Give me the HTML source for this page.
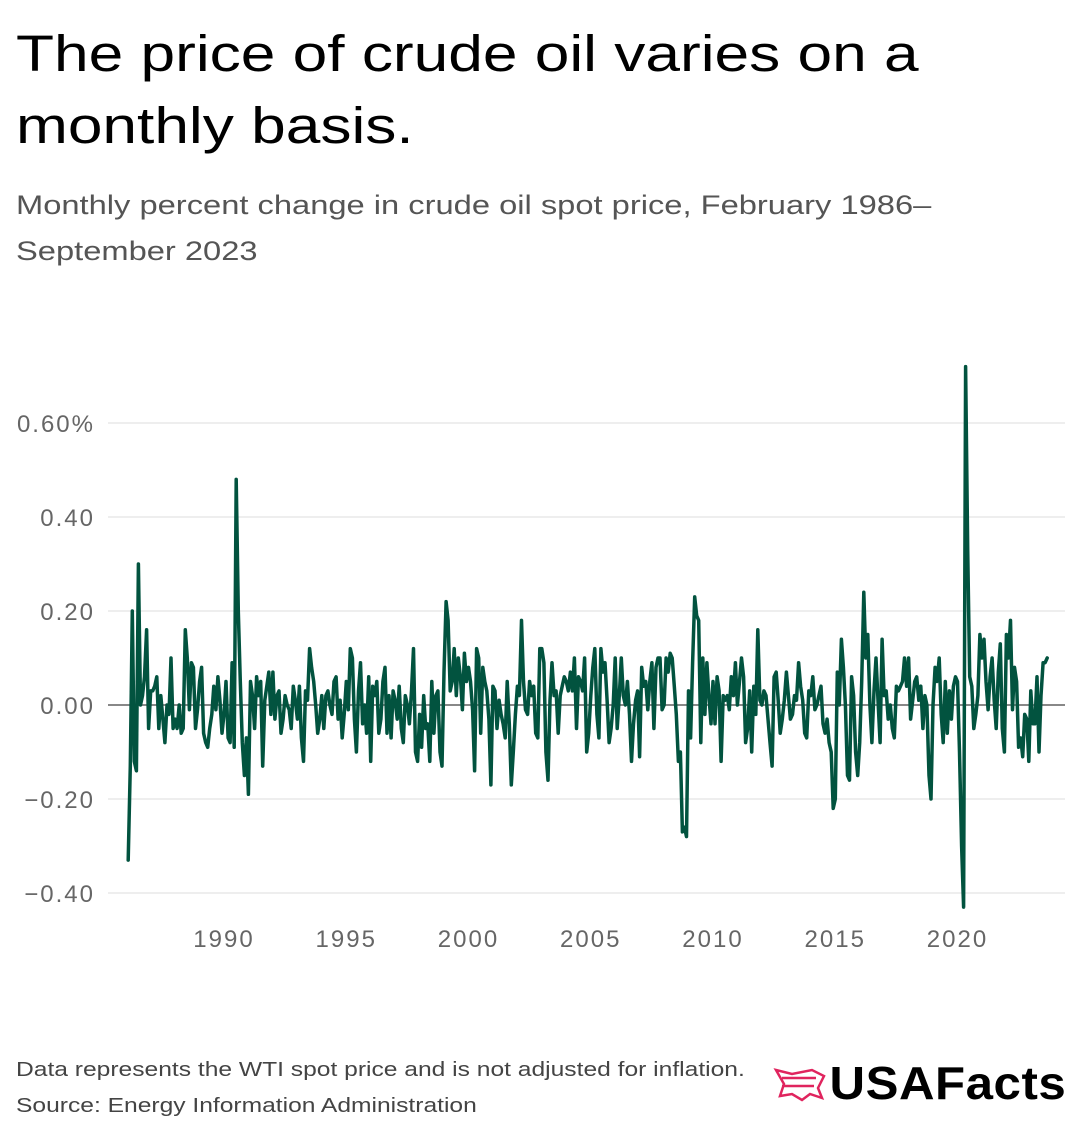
<!DOCTYPE html>
<html><head><meta charset="utf-8"><style>
body{margin:0;background:#fff;width:1080px;height:1136px;overflow:hidden;font-family:"Liberation Sans",sans-serif}
#title{position:absolute;left:16px;top:18px;font-size:51px;line-height:72px;color:#000;margin:0;font-weight:500;transform:scaleX(1.22);transform-origin:0 0;white-space:nowrap}
#sub{position:absolute;left:16px;top:182px;font-size:27px;line-height:46px;color:#555;transform:scaleX(1.21);transform-origin:0 0;white-space:nowrap}
#foot{position:absolute;left:16px;top:1052px;font-size:20px;line-height:36px;color:#444;transform:scaleX(1.23);transform-origin:0 0;white-space:nowrap}
#logo{position:absolute;right:14px;top:1056px;font-size:46px;font-weight:bold;color:#000;letter-spacing:0.5px;transform:scaleX(1.07);transform-origin:100% 0}
svg{position:absolute;left:0;top:0}
</style></head><body>
<h1 id="title">The price of crude oil varies on a<br>monthly basis.</h1>
<div id="sub">Monthly percent change in crude oil spot price, February 1986–<br>September 2023</div>
<svg id="chart" width="1080" height="1000"></svg>
<div id="foot">Data represents the WTI spot price and is not adjusted for inflation.<br>Source: Energy Information Administration</div>
<svg width="60" height="40" style="left:772px;top:1064px"><path d="M4 6 L20 10 L40 6 L52 12 L46 24 L50 34 L38 30 L30 36 L20 30 L8 32 L12 20 Z M10 14 L44 14 M10 22 L42 22" fill="none" stroke="#e0245e" stroke-width="2.5"/></svg>
<div id="logo">USAFacts</div>
<script>
const yTicks=[0.6,0.4,0.2,0,-0.2,-0.4];
const yTickLabels=["0.60%","0.40","0.20","0.00","−0.20","−0.40"];
const xTicks=[1990,1995,2000,2005,2010,2015,2020];
const startYear=1986, startMonth=2;
const values=[
-0.33,-0.13,0.20,-0.12,-0.14,0.30,0.00,0.02,0.06,0.16,-0.05,
0.03,0.03,0.04,0.06,-0.05,0.02,-0.03,-0.08,0.00,-0.02,0.10,-0.05,
-0.03,-0.05,0.00,-0.06,-0.05,0.16,0.10,-0.01,0.09,0.08,-0.05,-0.01,
0.05,0.08,-0.06,-0.08,-0.09,-0.05,-0.02,0.04,-0.01,0.06,0.01,-0.06,
-0.02,0.05,-0.07,-0.08,0.09,-0.09,0.48,0.20,0.05,-0.08,-0.15,-0.07,
-0.19,0.05,0.02,-0.05,0.06,0.02,0.05,-0.13,0.01,0.04,0.07,-0.02,
0.07,-0.03,0.02,0.03,-0.06,-0.03,0.02,0.00,-0.01,-0.05,0.04,0.01,
-0.03,0.04,-0.07,-0.12,0.03,0.01,0.12,0.08,0.05,0.00,-0.06,-0.03,
0.02,-0.05,0.02,0.03,0.00,-0.02,0.05,0.06,-0.03,0.01,-0.07,-0.02,
0.05,-0.01,0.12,0.10,-0.03,-0.10,0.03,0.09,-0.04,0.00,-0.06,0.06,
-0.12,0.04,0.02,0.05,-0.06,-0.03,0.05,0.08,-0.06,0.02,-0.07,0.03,
0.01,-0.03,0.04,-0.05,-0.08,0.02,0.00,-0.04,0.03,0.12,-0.10,-0.12,
-0.02,-0.09,0.02,-0.05,-0.04,-0.12,0.05,-0.06,0.02,0.03,-0.10,-0.13,
0.07,0.22,0.18,0.03,0.05,0.12,0.02,0.10,0.06,-0.01,0.11,0.05,
0.08,0.05,-0.01,-0.14,0.12,0.10,-0.06,0.08,0.05,0.03,-0.03,-0.17,
0.04,0.03,-0.05,0.01,-0.02,-0.04,-0.07,0.05,-0.04,-0.17,-0.10,-0.02,
0.04,0.02,0.18,0.05,-0.01,-0.02,0.05,0.02,0.04,-0.06,-0.07,0.12,
0.12,0.09,-0.10,-0.16,0.01,0.09,0.02,0.03,-0.06,0.02,0.04,0.06,
0.05,0.03,0.07,0.03,0.10,-0.05,0.06,0.05,0.03,0.10,-0.10,-0.06,
0.02,0.08,0.12,-0.02,-0.07,0.12,0.07,0.09,0.01,-0.08,-0.05,0.00,
0.10,-0.05,0.02,0.10,0.02,0.00,0.05,-0.02,-0.12,-0.04,0.01,0.03,
-0.11,0.08,0.04,0.05,-0.01,0.05,0.09,-0.05,0.08,0.10,0.10,-0.01,
0.00,0.10,0.07,0.11,0.10,0.04,-0.02,-0.12,-0.10,-0.27,-0.26,-0.28,
0.03,-0.07,0.09,0.23,0.19,0.18,-0.08,0.10,-0.02,0.09,0.02,-0.04,
0.05,-0.04,0.06,0.03,-0.12,0.02,0.01,0.02,-0.01,0.06,0.02,0.09,
0.00,0.05,0.10,0.06,-0.08,-0.05,0.03,-0.10,0.04,-0.02,0.16,0.01,
0.00,0.03,0.02,-0.03,-0.08,-0.13,0.06,0.07,0.01,-0.06,-0.03,0.01,
0.07,0.02,-0.03,-0.02,0.02,0.01,0.09,0.04,0.01,-0.06,-0.07,0.03,
0.02,0.06,-0.01,0.00,0.02,0.04,-0.04,-0.06,-0.03,-0.08,-0.10,-0.22,
-0.20,0.07,0.00,0.14,0.08,0.00,-0.15,-0.16,0.06,0.02,-0.10,-0.15,
-0.08,0.05,0.24,0.10,0.15,0.00,-0.08,0.03,0.10,0.01,-0.08,0.14,
0.02,0.03,-0.03,0.00,-0.05,-0.07,0.04,0.03,0.04,0.05,0.10,0.04,
0.10,-0.03,0.01,0.05,0.06,0.01,0.04,-0.05,0.02,0.00,-0.15,-0.20,
0.00,0.08,0.05,0.10,-0.02,-0.08,0.05,-0.06,0.03,-0.03,0.04,0.06,
0.05,-0.10,-0.30,-0.43,0.72,0.33,0.06,0.04,-0.05,-0.02,0.02,0.15,
0.10,0.14,0.05,-0.01,0.06,0.10,0.01,-0.05,0.07,0.13,-0.05,-0.10,
0.15,0.10,0.18,-0.01,0.08,0.05,-0.09,-0.07,-0.11,-0.02,-0.03,-0.12,
0.03,-0.04,-0.04,0.06,-0.10,0.02,0.09,0.09,0.10];
const NS="http://www.w3.org/2000/svg";
const svg=document.getElementById('chart');
const y=v=>705-v*470;
const x=t=>224+(t-1990)*24.45;
function mk(tag,a){const e=document.createElementNS(NS,tag);for(const k in a)e.setAttribute(k,a[k]);svg.appendChild(e);return e;}
yTicks.forEach((v,i)=>{
 const g=mk('line',{x1:108,x2:1065,y1:y(v),y2:y(v),stroke:v===0?'#888':'#ddd','stroke-width':v===0?2:1});
 
 
 const t=mk('text',{x:95,y:y(v)+9,'text-anchor':'end','font-size':24,fill:'#666','letter-spacing':2,'font-family':'Liberation Sans, sans-serif'});
 t.textContent=yTickLabels[i];
 
 
});
xTicks.forEach(yr=>{
 const t=mk('text',{x:x(yr),y:947,'text-anchor':'middle','font-size':24,fill:'#666','letter-spacing':2,'font-family':'Liberation Sans, sans-serif'});
 t.textContent=yr;
 
 
});
const pts=values.map((v,i)=>{const t=startYear+(startMonth-1+i)/12;return x(t).toFixed(1)+','+y(v).toFixed(1);});
const p=mk('polyline',{points:pts.join(' '),fill:'none',stroke:'#02533f','stroke-width':3.5,'stroke-linejoin':'round','stroke-linecap':'round'});


</script>
</body></html>
